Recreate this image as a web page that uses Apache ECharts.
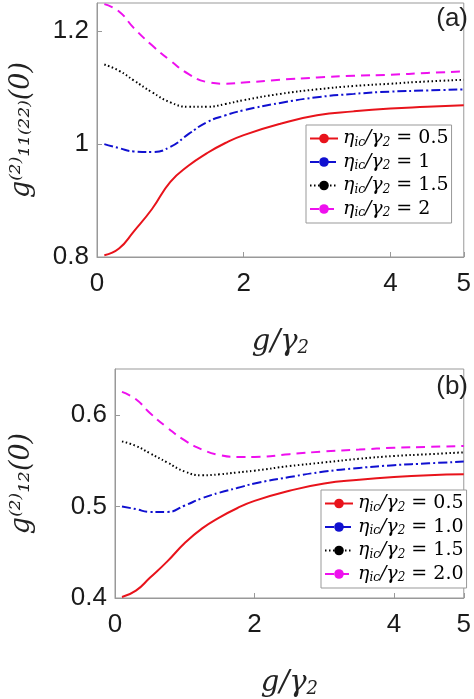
<!DOCTYPE html>
<html><head><meta charset="utf-8">
<script src="https://cdn.jsdelivr.net/npm/echarts@6/dist/echarts.min.js"></script>
<style>html,body{margin:0;padding:0;background:#fff}#c{width:474px;height:699px}</style>
</head><body><div id="c"></div>
<script>
const xs = [0.1, 0.3, 0.5, 0.75, 1, 1.25, 1.5, 1.75, 2, 2.5, 3, 3.5, 4, 4.5, 5];
// panel (a)
const aRed = [0.803,0.815,0.845,0.885,0.933,0.962,0.984,1.002,1.016,1.036,1.051,1.058,1.063,1.066,1.069];
const aBlue = [1.0,0.993,0.987,0.986,0.995,1.018,1.039,1.051,1.06,1.073,1.083,1.089,1.093,1.095,1.097];
const aBlack = [1.141,1.130,1.113,1.092,1.074,1.066,1.066,1.071,1.078,1.089,1.097,1.103,1.107,1.111,1.114];
const aMag = [1.248,1.235,1.206,1.175,1.148,1.124,1.110,1.107,1.109,1.114,1.118,1.121,1.123,1.126,1.129];
// panel (b)
const bRed = [0.401,0.408,0.422,0.44,0.46,0.476,0.488,0.498,0.506,0.517,0.525,0.529,0.532,0.534,0.535];
const bBlue = [0.5,0.497,0.494,0.494,0.501,0.509,0.515,0.52,0.525,0.532,0.538,0.542,0.545,0.547,0.549];
const bBlack = [0.571,0.566,0.558,0.548,0.538,0.534,0.535,0.537,0.539,0.544,0.548,0.552,0.555,0.557,0.559];
const bMag = [0.625,0.617,0.602,0.586,0.572,0.562,0.556,0.554,0.554,0.557,0.56,0.562,0.564,0.565,0.566];
const labelsA = ['0.5', '1', '1.5', '2'];
const labelsB = ['0.5', '1.0', '1.5', '2.0'];

const colors = ['#e8131b', '#1010d0', '#000000', '#ee10ee'];
const dashes = ['solid', [9, 3, 2, 3], [1.5, 2.5], [9, 6]];
const zip = (x, y) => x.map((v, i) => [v, y[i]]);

function mk(name, y, k, gi) {
  return {type: 'line', name, xAxisIndex: gi, yAxisIndex: gi, data: zip(xs, y), smooth: true,
    showSymbol: false, symbol: 'none', lineStyle: {color: colors[k], width: 2, type: dashes[k]},
    itemStyle: {color: colors[k]}};
}
const series = [
  mk('a0', aRed, 0, 0), mk('a1', aBlue, 1, 0), mk('a2', aBlack, 2, 0), mk('a3', aMag, 3, 0),
  mk('b0', bRed, 0, 1), mk('b1', bBlue, 1, 1), mk('b2', bBlack, 2, 1), mk('b3', bMag, 3, 1)
];
const rich = {
  i: {fontFamily: 'DejaVu Serif', fontStyle: 'italic', fontSize: 19, color: '#000'},
  s: {fontFamily: 'DejaVu Serif', fontStyle: 'italic', fontSize: 12, color: '#000', padding: [8, 0, 0, 0]},
  n: {fontFamily: 'DejaVu Serif', fontSize: 19, color: '#000'}
};
function fmt(name) {
  const k = +name[1];
  const v = name[0] === 'a' ? labelsA[k] : labelsB[k];
  return '{i|η}{s|ic}{i|/γ}{s|2}{n| = ' + v + '}';
}
function legend(top, left, data) {
  return {orient: 'vertical', top, left, data, formatter: fmt, textStyle: {rich},
    itemWidth: 28, itemHeight: 12, itemGap: 4, padding: [4, 3, 4, 3],
    borderColor: '#999', borderWidth: 1, backgroundColor: '#fff'};
}
const axisLbl = {fontFamily: 'Liberation Sans', fontSize: 26, color: '#1a1a1a'};
function xAx(gi) {
  return {type: 'value', gridIndex: gi, min: 0, max: 5, interval: 2,
    axisLine: {lineStyle: {color: '#999'}}, axisTick: {inside: true, length: 5, lineStyle: {color: '#999'}},
    splitLine: {show: false}, axisLabel: {...axisLbl, margin: 14},
    name: '{i|g/γ}{s|2}', nameLocation: 'middle', nameGap: 70,
    nameTextStyle: {rich: {i: {fontFamily: 'DejaVu Serif', fontStyle: 'italic', fontSize: 29, color: '#222'},
      s: {fontFamily: 'DejaVu Serif', fontStyle: 'italic', fontSize: 18, color: '#222', padding: [12, 0, 0, 0]}}}};
}
function yAx(gi, min, max, interval, name, gap, fmtL) {
  return {type: 'value', gridIndex: gi, min, max, interval,
    axisLine: {lineStyle: {color: '#999'}}, axisTick: {inside: true, length: 5, lineStyle: {color: '#999'}},
    splitLine: {show: false}, axisLabel: {...axisLbl, margin: 8, formatter: fmtL, showMaxLabel: false},
    name, nameLocation: 'middle', nameGap: gap, nameRotate: 90,
    nameTextStyle: {fontFamily: 'DejaVu Serif', fontStyle: 'italic', fontSize: 27, color: '#222'}};
}
const chart = echarts.init(document.getElementById('c'));
chart.setOption({
  animation: false,
  grid: [
    {left: 89, right: 3, top: 3, height: 254, show: true, borderColor: '#999', borderWidth: 1},
    {left: 112, right: 3, top: 369, height: 238, show: true, borderColor: '#999', borderWidth: 1}
  ],
  xAxis: [xAx(0), xAx(1)],
  yAxis: [
    yAx(0, 0.8, 1.25, 0.2, 'g⁽²⁾₁₁₍₂₂₎(0)', 62, v => (Math.abs(v - 1) < 1e-9 ? '1' : v.toFixed(1))),
    yAx(1, 0.4, 0.65, 0.1, 'g⁽²⁾₁₂(0)', 80, v => v.toFixed(1))
  ],
  legend: [legend(125, 306, ['a0', 'a1', 'a2', 'a3']), legend(490, 321, ['b0', 'b1', 'b2', 'b3'])],
  series,
  graphic: [
    {type: 'text', right: 6, top: 6, style: {text: '(a)', font: '26px Liberation Sans', fill: '#222'}},
    {type: 'text', right: 6, top: 374, style: {text: '(b)', font: '26px Liberation Sans', fill: '#222'}}
  ]
});
</script></body></html>
